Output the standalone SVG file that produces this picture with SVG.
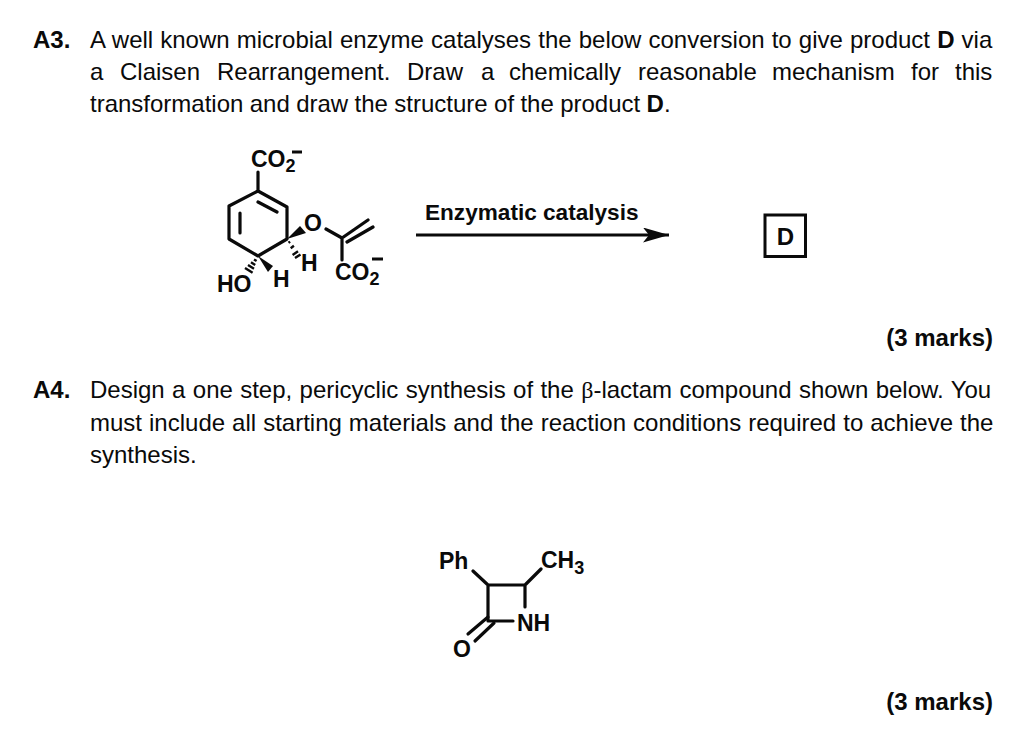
<svg xmlns="http://www.w3.org/2000/svg" width="1024" height="738" viewBox="0 0 1024 738">
<style>
text{font-family:"Liberation Sans",Arial,sans-serif;fill:#0a0a0a}
.t{font-size:24px}
.b{font-weight:bold}
.c{font-size:23px;font-weight:bold}
.s{font-size:18px;font-weight:bold}
.l{stroke:#0a0a0a;stroke-width:3.200;fill:none;stroke-linecap:round;stroke-linejoin:round}
.h{stroke:#0a0a0a;stroke-width:2.400;fill:none}
.f{fill:#0a0a0a;stroke:none}
.m{stroke:#0a0a0a;stroke-width:3;fill:none}
</style>
<defs>
<marker id="head" markerUnits="userSpaceOnUse" markerWidth="28" markerHeight="16" refX="26" refY="7.500" orient="auto"><path d="M0 0L26 7.500L0 15L6 7.500Z" fill="#0a0a0a"/></marker>
</defs>
<rect width="1024" height="738" fill="#fff"/>
<g id="question-text">
<text class="t b" x="33" y="48">A3.</text>
<text class="t" x="90" y="48" word-spacing="0.45">A well known microbial enzyme catalyses the below conversion to give product <tspan class="b">D</tspan> via</text>
<text class="t" y="80"><tspan x="90">a</tspan><tspan x="120">Claisen</tspan><tspan x="217">Rearrangement.</tspan><tspan x="407">Draw</tspan><tspan x="481">a</tspan><tspan x="509">chemically</tspan><tspan x="638">reasonable</tspan><tspan x="772">mechanism</tspan><tspan x="911">for</tspan><tspan x="955">this</tspan></text>
<text class="t" x="90" y="112" word-spacing="-0.3">transformation and draw the structure of the product <tspan class="b">D</tspan>.</text>
<text class="t b" x="993" y="346" text-anchor="end">(3 marks)</text>
<text class="t b" x="33" y="398">A4.</text>
<text class="t" x="90" y="398" word-spacing="0.7">Design a one step, pericyclic synthesis of the <tspan style="font-family:'Liberation Serif',serif">β</tspan>-lactam compound shown below. You</text>
<text class="t" x="90" y="431" word-spacing="0.35">must include all starting materials and the reaction conditions required to achieve the</text>
<text class="t" x="90" y="463">synthesis.</text>
<text class="t b" x="993" y="710" text-anchor="end">(3 marks)</text>
</g>
<g id="substrate">
<path class="l" d="M258 172V191L287 207V239L258 256L229 239V206L258 191M258 202L277 212M240 213V233"/>
<path class="f" d="M287 239L300 226L306 233Z"/>
<path class="l" d="M326 229L342 238V260M342 238L368 220M347 242L373 227"/>
<path class="f" d="M258 256L273 266L268 272Z"/>
<path class="h" d="M290.100 241.600L288.500 242.800M293.900 245.800L290.700 248.200M298 251.200L292.600 255M300.500 254.400L295 258"/>
<path class="h" d="M256.600 261L254 259.400M255.200 265L251 262.200M254 268.800L248 265M252.600 272.700L245 267.900"/>
<text class="c" x="251" y="167">CO<tspan class="s" dy="5">2</tspan></text>
<path class="m" d="M292 152H302"/>
<text class="c" x="304" y="231">O</text>
<text class="c" x="301" y="271">H</text>
<text class="c" x="273" y="287">H</text>
<text class="c" x="217" y="292">HO</text>
<text class="c" x="335" y="280">CO<tspan class="s" dy="5">2</tspan></text>
<path class="m" d="M372 259H383"/>
</g>
<g id="connectors">
<path d="M416 235H669" stroke="#0a0a0a" stroke-width="3" marker-end="url(#head)"/>
</g>
<text class="c" x="425" y="220" style="font-size:22.600px">Enzymatic catalysis</text>
<g id="product-D">
<rect x="765" y="215" width="40.500" height="41.500" fill="none" stroke="#0a0a0a" stroke-width="3"/>
<text class="t b" x="785.500" y="245" text-anchor="middle">D</text>
</g>
<g id="beta-lactam">
<path class="l" d="M473 571L488 585H525L541 569M488 585V621M525 585V607M488 621H513"/>
<path class="l" d="M488 617L468 634M494 623L475 641"/>
<text class="c" x="439" y="569">Ph</text>
<text class="c" x="541" y="568">CH<tspan class="s" dy="6">3</tspan></text>
<text class="c" x="517" y="631">NH</text>
<text class="c" x="453" y="657">O</text>
</g>
</svg>
